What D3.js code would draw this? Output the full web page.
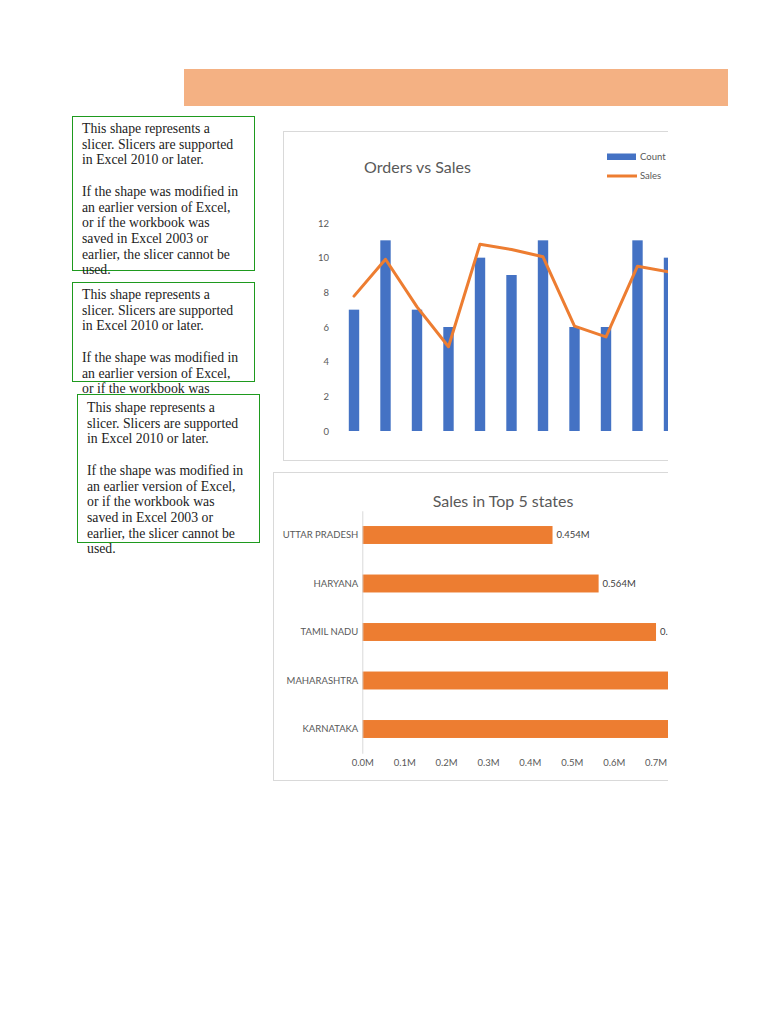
<!DOCTYPE html>
<html>
<head>
<meta charset="utf-8">
<script src="https://cdn.jsdelivr.net/npm/d3@7"></script>
<style>
  body { margin: 0; background: #fff; width: 768px; height: 1024px; position: relative; overflow: hidden; }
  .banner { position: absolute; left: 184px; top: 69px; width: 544px; height: 37px; background: #F4B183; }
  .slicer {
    position: absolute; width: 183px; box-sizing: border-box;
    border: 1px solid #1E9A1E; background: #fff;
    font-family: "Liberation Serif", "Times New Roman", serif;
    font-size: 13.75px; line-height: 15.7px; color: #222;
    white-space: nowrap; padding: 4px 0 0 9px;
  }
  svg.chart { position: absolute; font-family: Lato, sans-serif; }
</style>
</head>
<body>
<div class="banner"></div>
<div class="slicer" style="left:72px; top:116px; height:155px;"></div>
<div class="slicer" style="left:72px; top:282px; height:100px;"></div>
<div class="slicer" style="left:77px; top:394px; height:149px; padding-top:5px;"></div>
<svg class="chart" id="combo" style="left:283px; top:131px;" width="385" height="330"></svg>
<svg class="chart" id="states" style="left:273px; top:472px;" width="395" height="309"></svg>
<script>
// slicer placeholder text
const slicerLines = [
  "This shape represents a",
  "slicer. Slicers are supported",
  "in Excel 2010 or later.",
  "",
  "If the shape was modified in",
  "an earlier version of Excel,",
  "or if the workbook was",
  "saved in Excel 2003 or",
  "earlier, the slicer cannot be",
  "used."
];

// Orders vs Sales (December is off the visible area)
const months = ["Jan", "Feb", "Mar", "Apr", "May", "Jun", "Jul", "Aug", "Sep", "Oct", "Nov", "Dec"];
const orderCounts = [7, 11, 7, 6, 10, 9, 11, 6, 6, 11, 10, 8];
const salesValues = [38900, 49550, 35800, 24300, 53900, 52350, 50250, 30250, 27150, 47550, 45900, 44000];
const countTicks = [0, 2, 4, 6, 8, 10, 12];

// Sales in top 5 states, millions
const states = ["UTTAR PRADESH", "HARYANA", "TAMIL NADU", "MAHARASHTRA", "KARNATAKA"];
const stateSales = [0.454, 0.564, 0.701, 0.78, 0.8];
const salesTicks = [0, 0.1, 0.2, 0.3, 0.4, 0.5, 0.6, 0.7];

const blue = "#4472C4";
const orange = "#ED7D31";
const grey = "#595959";

d3.selectAll(".slicer").html(slicerLines.map((l) => l || "&nbsp;").join("<br>"));

// ---- combo chart ----
const svg1 = d3.select("#combo");
svg1.append("rect")
  .attr("x", 0.5).attr("y", 0.5)
  .attr("width", 600).attr("height", 329)
  .attr("fill", "#fff").attr("stroke", "#D9D9D9");

svg1.append("text")
  .attr("x", 134.5).attr("y", 42)
  .attr("text-anchor", "middle")
  .attr("font-size", 16).attr("fill", grey)
  .text("Orders vs Sales");

const x1 = d3.scaleBand()
  .domain(months)
  .range([55.25, 433.25])
  .paddingInner(0.67)
  .paddingOuter(0.335);

const y1 = d3.scaleLinear().domain([0, 12]).range([300, 92]);
const ySales = d3.scaleLinear().domain([0, 60000]).range([300, 92]);

const yAxis1 = svg1.append("g")
  .attr("transform", "translate(46,0)")
  .call(d3.axisLeft(y1).tickValues(countTicks).tickSize(0).tickPadding(0));
yAxis1.select(".domain").remove();
yAxis1.selectAll("text").attr("fill", grey).attr("font-size", 9.5).attr("font-family", "Lato, sans-serif");

svg1.selectAll(".bar")
  .data(orderCounts)
  .enter()
  .append("rect")
  .attr("class", "bar")
  .attr("x", (d, i) => x1(months[i]))
  .attr("y", (d) => y1(d))
  .attr("width", x1.bandwidth())
  .attr("height", (d) => y1(0) - y1(d))
  .attr("fill", blue);

const line = d3.line()
  .x((d, i) => x1(months[i]) + x1.bandwidth() / 2)
  .y((d) => ySales(d));

svg1.append("path")
  .datum(salesValues)
  .attr("d", line)
  .attr("fill", "none")
  .attr("stroke", orange)
  .attr("stroke-width", 3)
  .attr("stroke-linejoin", "round")
  .attr("stroke-linecap", "round");

// legend
const legend = svg1.append("g").attr("font-size", 9.5).attr("fill", grey);
legend.append("rect")
  .attr("x", 324).attr("y", 22.5).attr("width", 29).attr("height", 6.5)
  .attr("fill", blue);
legend.append("text")
  .attr("x", 357).attr("y", 26).attr("dy", "0.35em")
  .text("Count of Order ID");
legend.append("line")
  .attr("x1", 324).attr("x2", 354).attr("y1", 45).attr("y2", 45)
  .attr("stroke", orange).attr("stroke-width", 3);
legend.append("text")
  .attr("x", 357).attr("y", 45).attr("dy", "0.35em")
  .text("Sales");

// ---- states bar chart ----
const svg2 = d3.select("#states");
svg2.append("rect")
  .attr("x", 0.5).attr("y", 0.5)
  .attr("width", 600).attr("height", 308)
  .attr("fill", "#fff").attr("stroke", "#D9D9D9");

svg2.append("text")
  .attr("x", 230).attr("y", 35)
  .attr("text-anchor", "middle")
  .attr("font-size", 16).attr("fill", grey)
  .text("Sales in Top 5 states");

const x2 = d3.scaleLinear().domain([0, 0.9]).range([89.3, 89.3 + 377.1]);
const y2 = d3.scaleBand()
  .domain(states)
  .range([38.75, 281.25])
  .paddingInner(0.63)
  .paddingOuter(0.315);

svg2.selectAll(".hbar")
  .data(stateSales)
  .enter()
  .append("rect")
  .attr("class", "hbar")
  .attr("x", x2(0))
  .attr("y", (d, i) => y2(states[i]))
  .attr("width", (d) => x2(d) - x2(0))
  .attr("height", y2.bandwidth())
  .attr("fill", orange);

const yAxis2 = svg2.append("g")
  .attr("transform", `translate(${x2(0)},0)`)
  .call(d3.axisLeft(y2).tickSize(0).tickSizeOuter(0).tickPadding(4));
yAxis2.select(".domain").attr("stroke", "#D9D9D9");
yAxis2.selectAll("text").attr("fill", grey).attr("font-size", 9.5).attr("font-family", "Lato, sans-serif");

const xAxis2 = svg2.append("g")
  .attr("transform", "translate(0,280)")
  .call(d3.axisBottom(x2).tickValues(salesTicks).tickSize(0).tickPadding(7)
    .tickFormat((d) => d3.format(".1f")(d) + "M"));
xAxis2.select(".domain").remove();
xAxis2.selectAll("text").attr("fill", grey).attr("font-size", 9.5).attr("font-family", "Lato, sans-serif");

svg2.selectAll(".dlabel")
  .data(stateSales)
  .enter()
  .append("text")
  .attr("class", "dlabel")
  .attr("x", (d) => x2(d) + 4)
  .attr("y", (d, i) => y2(states[i]) + y2.bandwidth() / 2)
  .attr("dy", "0.35em")
  .attr("font-size", 9.5)
  .attr("fill", "#404040")
  .text((d) => d3.format(".3f")(d) + "M");
</script>
</body>
</html>
